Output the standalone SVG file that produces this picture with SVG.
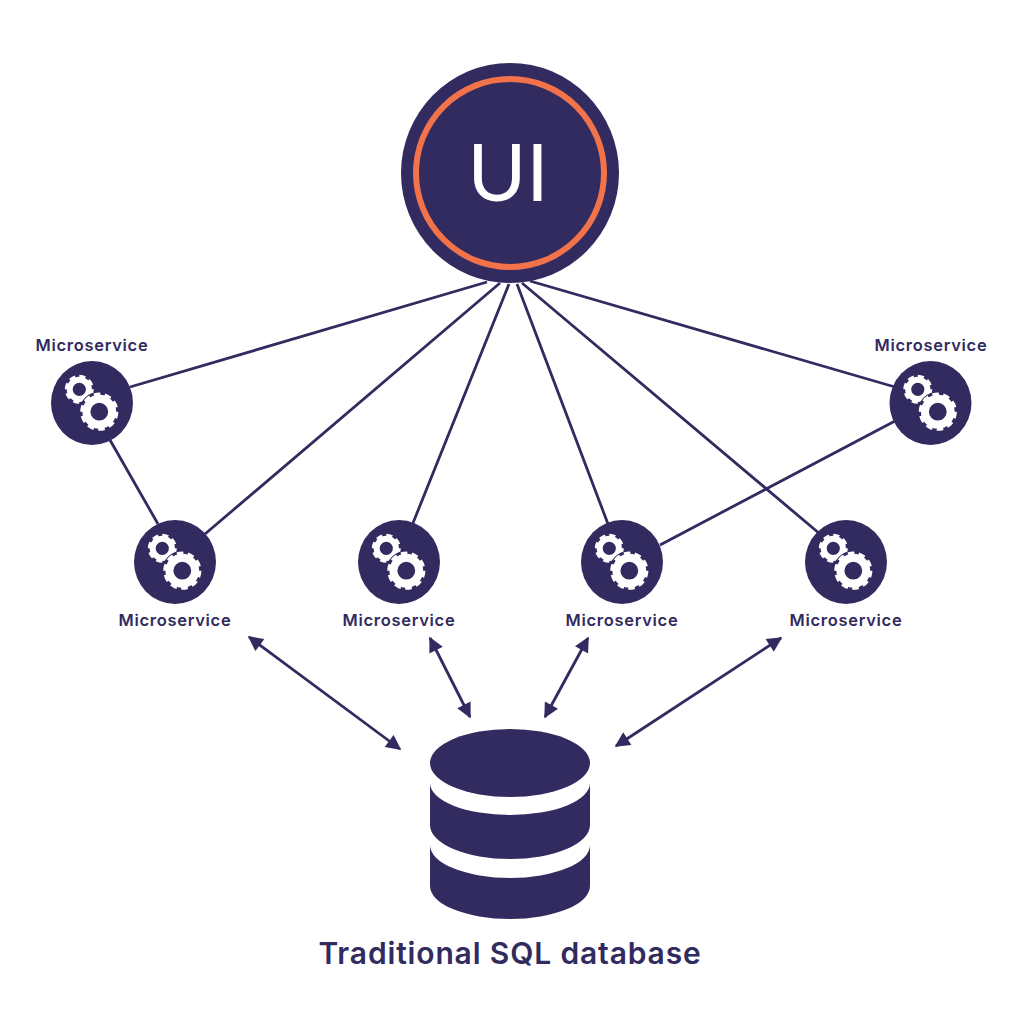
<svg xmlns="http://www.w3.org/2000/svg" xmlns:xlink="http://www.w3.org/1999/xlink" width="1024" height="1024" viewBox="0 0 1024 1024">
<style>
.d{fill:#312b60}
.l{stroke:#312b60;stroke-width:2.8;fill:none}
.ms{font:600 16.5px Inter,"Noto Sans",sans-serif;letter-spacing:.7px;fill:#312b60;text-anchor:middle}
.g{fill:none;stroke:#fff}
</style>
<defs>
<marker id="a" viewBox="0 0 10 10" refX="9" refY="5" markerUnits="userSpaceOnUse" markerWidth="16" markerHeight="15" orient="auto-start-reverse"><path d="M0 0L10 5L0 10Z" fill="#312b60"/></marker>
<g id="gear">
<ellipse class="d" cx="0" cy="0" rx="41" ry="42"/>
<circle class="g" cx="-12.7" cy="-13.7" r="9.6" stroke-width="6"/>
<circle class="g" cx="-12.7" cy="-13.7" r="13" stroke-width="3" pathLength="16" stroke-dasharray="1.2 .8"/>
<circle cx="7.3" cy="8.7" r="20" fill="#312b60"/>
<circle class="g" cx="7.3" cy="8.7" r="12.9" stroke-width="8"/>
<circle class="g" cx="7.3" cy="8.7" r="17.4" stroke-width="3.4" pathLength="20" stroke-dasharray="1.2 .8"/>
</g>
</defs>
<rect width="1024" height="1024" fill="#fff"/>
<g id="connectors">
<path class="l" d="M487 282L130 387M500 283L205 534M509 284L413 523M517 284L608 524M522 283L820 534M530 281L895 387M895 421L660 545M110 440L158 524"/>
<path class="l" marker-start="url(#a)" marker-end="url(#a)" d="M249 637L400 749"/>
<path class="l" marker-start="url(#a)" marker-end="url(#a)" d="M430 638L470 717"/>
<path class="l" marker-start="url(#a)" marker-end="url(#a)" d="M588 638L545 717"/>
<path class="l" marker-start="url(#a)" marker-end="url(#a)" d="M781 638L616 746"/>
</g>
<g id="ui">
<ellipse class="d" cx="510" cy="173" rx="109" ry="110"/>
<circle cx="510" cy="173" r="94" fill="none" stroke="#f2734a" stroke-width="6"/>
<text x="508" y="201" font-family="Lato,'Open Sans',sans-serif" font-weight="400" font-size="80" fill="#fff" text-anchor="middle">UI</text>
</g>
<g id="ms1"><use xlink:href="#gear" x="92" y="403"/><text class="ms" x="92" y="350.500">Microservice</text></g>
<g id="ms2"><use xlink:href="#gear" x="930.500" y="403"/><text class="ms" x="931" y="350.500">Microservice</text></g>
<g id="ms3"><use xlink:href="#gear" x="175" y="562"/><text class="ms" x="175" y="626">Microservice</text></g>
<g id="ms4"><use xlink:href="#gear" x="399" y="562"/><text class="ms" x="399" y="626">Microservice</text></g>
<g id="ms5"><use xlink:href="#gear" x="622" y="562"/><text class="ms" x="622" y="626">Microservice</text></g>
<g id="ms6"><use xlink:href="#gear" x="846" y="562"/><text class="ms" x="846" y="626">Microservice</text></g>
<g id="db">
<ellipse class="d" cx="510" cy="763" rx="80" ry="34"/>
<path class="d" d="M430 783A80 32 0 0 0 590 783V825A80 34 0 0 1 430 825Z"/>
<path class="d" d="M430 845A80 33 0 0 0 590 845V886A80 33 0 0 1 430 886Z"/>
<text x="510" y="964" font-family="Inter,'Noto Sans',sans-serif" font-weight="600" font-size="30" letter-spacing=".85" fill="#312b60" text-anchor="middle">Traditional SQL database</text>
</g>
</svg>
